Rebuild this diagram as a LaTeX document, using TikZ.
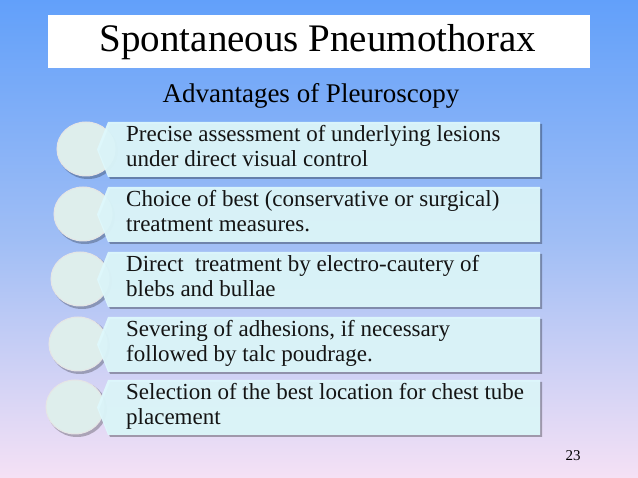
\documentclass[tikz,border=0pt]{standalone}
\usepackage{fontspec}
\setmainfont{Liberation Serif}
\definecolor{bgtop}{RGB}{98,160,250}
\definecolor{bgmid}{RGB}{160,190,245}
\definecolor{bgbot}{RGB}{245,225,245}
\definecolor{boxfill}{RGB}{222,248,252}
\definecolor{circfill}{RGB}{222,238,236}
\definecolor{txt}{RGB}{20,20,20}
\begin{document}
\begin{tikzpicture}[x=1pt,y=-1pt,
  itemtext/.style={anchor=north west,align=left,font=\fontsize{23}{25}\selectfont,text=txt,inner sep=0pt},
  circ/.style={fill=circfill,draw=white!80!gray,line width=1pt}]
\useasboundingbox (0,0) rectangle (638,478);
\shade[top color=bgtop,bottom color=bgmid] (0,0) rectangle (638,240);
\shade[top color=bgmid,bottom color=bgbot] (0,240) rectangle (638,478);
\fill[white] (48,15) rectangle (590,68);
\node (title) at (318,42) {\fontsize{39}{42}\selectfont Spontaneous Pneumothorax};
\node (sub) at (311,96) {\fontsize{27}{30}\selectfont Advantages of Pleuroscopy};
\foreach \t/\cx/\a/\b [count=\i from 0] in {122/86/Precise assessment of underlying lesions/under direct visual control,
  187/83/Choice of best (conservative or surgical)/treatment measures.,
  252/80/Direct\ \ treatment by electro-cautery of/blebs and bullae,
  317/78/{Severing of adhesions, if necessary}/followed by talc poudrage.,
  380/75/Selection of the best location for chest tube/placement}{
  \fill[black,opacity=0.25] (\cx+2,\t+29) ellipse (30 and 28);
  \draw[circ] (\cx,\t+27) ellipse (29 and 27) coordinate (c\i);
  \fill[black,opacity=0.3] (110,\t+2) -- (542,\t+2) -- (542,\t+57) -- (110,\t+57) -- (99,\t+29.5) -- cycle;
  \fill[boxfill,opacity=0.95] (108,\t) -- (540,\t) -- (540,\t+55) -- (108,\t+55) -- (97,\t+27.5) -- cycle;
  \node[itemtext] (t\i) at (126,\t+3) {\a\\\b};
}
\node (pg) at (573,456) {\fontsize{15}{17}\selectfont 23};
\end{tikzpicture}
\end{document}
